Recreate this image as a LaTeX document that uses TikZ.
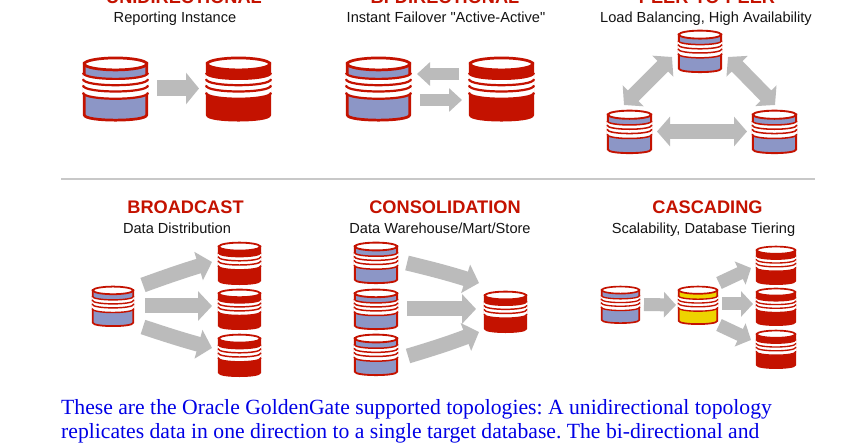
\documentclass[tikz,border=0pt]{standalone}
\usepackage{fontspec}
\setmainfont{Liberation Sans}
\newfontfamily\plainsans{Liberation Sans}
\newfontfamily\bodyserif{Liberation Serif}
\usetikzlibrary{calc,arrows.meta}
\definecolor{dbred}{HTML}{C41200}
\definecolor{dbblue}{HTML}{8C96C6}
\definecolor{dbyellow}{HTML}{EED400}
\definecolor{flowgray}{HTML}{BBBBBB}
\definecolor{ruleg}{HTML}{C8C8C8}
\definecolor{captionblue}{HTML}{0000E6}
\tikzset{
  dbspot/.style={inner sep=0pt,outer sep=0pt,rectangle},
  flow/.style={draw=flowgray,line width=#1},
  flow/.default=15pt,
  big/.style={flow=16pt,-{Triangle[width=31pt,length=13pt]}},
  mid/.style={flow=15pt,-{Triangle[width=29pt,length=14pt]}},
  small/.style={flow=13pt,-{Triangle[width=25pt,length=12pt]}},
  both/.style={flow=15pt,{Triangle[width=29pt,length=13pt]}-{Triangle[width=29pt,length=13pt]}},
  title/.style={anchor=base,font=\fontsize{18.2}{18}\selectfont\bfseries,text=dbred,inner sep=0pt},
  subtitle/.style={anchor=base,font=\plainsans\fontsize{14.6}{15}\selectfont,text=black!92,inner sep=0pt},
  caption/.style={anchor=base west,font=\frenchspacing\bodyserif\fontsize{21.67}{22}\selectfont,text=captionblue,inner sep=0pt},
}
% name, x0, x1, top, bottom, fill
\newcommand{\dbcyl}[6]{%
  \pgfmathsetmacro{\dbw}{#3-(#2)}\pgfmathsetmacro{\dbh}{#5-(#4)}%
  \pgfmathsetmacro{\dblw}{.042*\dbw}\pgfmathsetmacro{\dbrw}{.034*\dbw}%
  \node[dbspot,minimum width=\dbw pt,minimum height=\dbh pt] (#1) at ({(#2+#3)/2},{(#4+#5)/2}) {};%
  \begin{scope}[shift={({(#2+#3)/2},#4)},xscale=\dbw,yscale=\dbh]
    \path[fill=#6,draw=dbred,line width=\dblw pt] (-.48,.1) -- (-.48,.92) .. controls (-.48,1.03) and (.48,1.03) .. (.48,.92) -- (.48,.1) -- cycle;
    \fill[white] (-.51,.25) .. controls (-.51,.38) and (.51,.38) .. (.51,.25) -- (.51,.565) .. controls (.51,.695) and (-.51,.695) .. (-.51,.565) -- cycle;
    \foreach \ry in {.25,.35,.45,.565}{
      \path[draw=dbred,line width=\dbrw pt] (-.5,\ry) .. controls (-.5,\ry+.13) and (.5,\ry+.13) .. (.5,\ry);
    }
    \path[fill=white,draw=dbred,line width=\dblw pt] (0,.11) ellipse[x radius=.48,y radius=.095];
  \end{scope}}
\begin{document}
\begin{tikzpicture}[x=1pt,y=-1pt]
\useasboundingbox (0,0) rectangle (844,443);
\clip (0,0) rectangle (844,443);
\fill[white] (0,0) rectangle (844,443);
% titles
\node[title] (t1) at (184,4) {UNIDIRECTIONAL};
\node[subtitle] (s1) at (175,23) {Reporting Instance};
\node[title] (t2) at (445,4) {BI-DIRECTIONAL};
\node[subtitle] (s2) at (446,23) {Instant Failover "Active-Active"};
\node[title] (t3) at (707,4) {PEER-TO-PEER};
\node[subtitle] (s3) at (706,23) {Load Balancing, High Availability};
\node[title] (t4) at (185.5,214) {BROADCAST};
\node[subtitle] (s4) at (177,234) {Data Distribution};
\node[title] (t5) at (445,214) {CONSOLIDATION};
\node[subtitle] (s5) at (440,234) {Data Warehouse/Mart/Store};
\node[title] (t6) at (707.5,214) {CASCADING};
\node[subtitle] (s6) at (703.5,234) {Scalability, Database Tiering};
% rule
\coordinate (ruleL) at (61,179);
\coordinate (ruleR) at (815,179);
\draw[ruleg,line width=1.6pt] (ruleL) -- (ruleR);
% databases
\dbcyl{uL}{83}{148}{57}{120}{dbblue}
\dbcyl{uR}{206}{271}{57}{120}{dbred}
\dbcyl{bL}{346}{411}{57}{120}{dbblue}
\dbcyl{bR}{469}{534}{57}{120}{dbred}
\dbcyl{pT}{678}{722}{30}{72}{dbblue}
\dbcyl{pL}{607}{652}{110}{153}{dbblue}
\dbcyl{pR}{752}{797}{110}{153}{dbblue}
\dbcyl{rS}{92}{134}{286}{326}{dbblue}
\dbcyl{rA}{218}{261}{242}{284}{dbred}
\dbcyl{rB}{218}{261}{289}{329}{dbred}
\dbcyl{rC}{218}{261}{334}{376}{dbred}
\dbcyl{cA}{354}{398}{242}{283}{dbblue}
\dbcyl{cB}{354}{398}{289}{329}{dbblue}
\dbcyl{cC}{354}{398}{334}{375}{dbblue}
\dbcyl{cT}{484}{527}{291}{332}{dbred}
\dbcyl{kS}{601}{640}{286}{323}{dbblue}
\dbcyl{kM}{678}{718}{286}{324}{dbyellow}
\dbcyl{kA}{756}{796}{246}{284}{dbred}
\dbcyl{kB}{756}{796}{288}{325}{dbred}
\dbcyl{kC}{756}{796}{330}{368}{dbred}
% flows
\draw[big] ($(uL.east)+(9,0)$) -- ($(uR.west)+(-7,0)$);
\draw[flow=12pt,-{Triangle[width=23pt,length=13pt]}] ($(bR.west)+(-10,-14.5)$) -- ($(bL.east)+(6,-14.5)$);
\draw[flow=12pt,-{Triangle[width=23pt,length=13pt]}] ($(bL.east)+(9,11.5)$) -- ($(bR.west)+(-7,11.5)$);
\draw[both] ($(pL.east)+(5,0)$) -- ($(pR.west)+(-5,0)$);
\draw[both] ($(pT.west)+(-6,6)$) -- ($(pL.north)+(-5.5,-5)$);
\draw[both] ($(pT.east)+(6,6)$) -- ($(pR.north)+(.5,-5)$);
\draw[mid] ($(rS.east)+(9,-21)$) to[bend left=1.5] ($(rA.west)+(-6,-1)$);
\draw[mid] ($(rS.east)+(11,0)$) -- ($(rB.west)+(-6,-3)$);
\draw[mid] ($(rS.east)+(9,21)$) to[bend right=1.5] ($(rC.west)+(-6,-7)$);
\draw[mid] ($(cA.east)+(9,.5)$) to[bend left=2] ($(cT.west)+(-5,-28.5)$);
\draw[mid] ($(cB.east)+(9,0)$) -- ($(cT.west)+(-8,-2.5)$);
\draw[mid] ($(cC.east)+(10,1.5)$) to[bend right=2] ($(cT.west)+(-5,20.5)$);
\draw[small] ($(kS.east)+(4,0)$) -- ($(kM.west)+(-2,0)$);
\draw[small] ($(kM.east)+(1,-22)$) -- ($(kA.west)+(-5,3)$);
\draw[small] ($(kM.east)+(4,-1)$) -- ($(kB.west)+(-3,-2.5)$);
\draw[small] ($(kM.east)+(1,20)$) -- ($(kC.west)+(-5,-9)$);
% caption
\node[caption] (c1) at (61,415) {These are the Oracle GoldenGate supported topologies: A unidirectional topology};
\node[caption] (c2) at (61,439) {replicates data in one direction to a single target database. The bi-directional and};
\end{tikzpicture}
\end{document}
